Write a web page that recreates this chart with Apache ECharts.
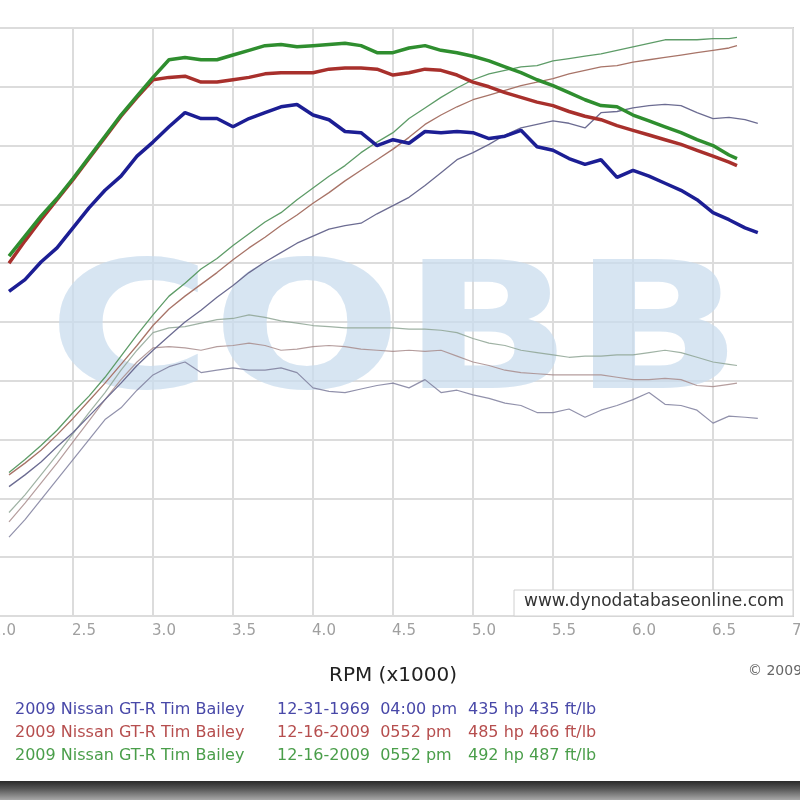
<!DOCTYPE html>
<html>
<head>
<meta charset="utf-8">
<script src="https://cdn.jsdelivr.net/npm/echarts@6/dist/echarts.min.js"></script>
<style>
  html, body { margin: 0; padding: 0; background: #fff; }
  #dyno { width: 800px; height: 800px; }
</style>
</head>
<body>
<div id="dyno"></div>
<script>
// rpm (x1000) sample points
const rpmA = [2.1, 2.2, 2.3, 2.4, 2.5, 2.6, 2.7, 2.8, 2.9, 3.0, 3.1, 3.2, 3.3, 3.4, 3.5, 3.6, 3.7, 3.8, 3.9, 4.0,
  4.1, 4.2, 4.3, 4.4, 4.5, 4.6, 4.7, 4.8, 4.9, 5.0, 5.1, 5.2, 5.3, 5.4, 5.5, 5.6, 5.7, 5.8, 5.9, 6.0,
  6.1, 6.2, 6.3, 6.4, 6.5, 6.6, 6.65];
const rpmB = [2.1, 2.2, 2.3, 2.4, 2.5, 2.6, 2.7, 2.8, 2.9, 3.0, 3.1, 3.2, 3.3, 3.4, 3.5, 3.6, 3.7, 3.8, 3.9, 4.0,
  4.1, 4.2, 4.3, 4.4, 4.5, 4.6, 4.7, 4.8, 4.9, 5.0, 5.1, 5.2, 5.3, 5.4, 5.5, 5.6, 5.7, 5.8, 5.9, 6.0,
  6.1, 6.2, 6.3, 6.4, 6.5, 6.6, 6.7, 6.78];

// torque (ft/lb)
const torqueGreen = [306, 323, 340, 355, 372, 390, 408, 426, 442, 458, 473, 475, 473, 473, 477, 481, 485, 486, 484, 485,
  486, 487, 485, 479, 479, 483, 485, 481, 479, 476, 472, 467, 462, 456, 451, 445, 439, 434, 433, 426,
  421, 416, 411, 405, 400, 392, 389];
const torqueRed = [300, 319, 337, 354, 371, 389, 407, 425, 441, 456, 458, 459, 454, 454, 456, 458, 461, 462, 462, 462,
  465, 466, 466, 465, 460, 462, 465, 464, 460, 454, 450, 445, 441, 437, 434, 429, 425, 422, 417, 413,
  409, 405, 401, 396, 391, 386, 383];
const torqueBlue = [276, 286, 301, 313, 330, 347, 362, 374, 391, 403, 416, 428, 423, 423, 416, 423, 428, 433, 435, 426,
  422, 412, 411, 400, 405, 402, 412, 411, 412, 411, 406, 408, 413, 399, 396, 389, 384, 388, 373, 379,
  374, 368, 362, 354, 343, 337, 330, 326];

// power (hp)
const hpGreen = [122, 133, 145, 158, 173, 187, 203, 221, 239, 256, 272, 283, 295, 304, 315, 325, 335, 343, 354, 364,
  374, 383, 394, 403, 411, 423, 432, 441, 449, 456, 461, 464, 467, 468, 472, 474, 476, 478, 481, 484,
  487, 490, 490, 490, 491, 491, 492];
const hpRed = [120, 130, 141, 154, 168, 183, 198, 214, 230, 247, 261, 272, 282, 292, 303, 313, 322, 332, 341, 351,
  360, 370, 379, 388, 397, 407, 418, 426, 433, 439, 443, 447, 451, 454, 457, 461, 464, 467, 468, 471,
  473, 475, 477, 479, 481, 483, 485];
const hpBlue = [110, 120, 131, 144, 156, 170, 184, 198, 213, 226, 238, 250, 260, 271, 281, 292, 301, 309, 317, 323,
  329, 332, 334, 342, 349, 356, 366, 377, 388, 394, 401, 409, 415, 418, 421, 419, 415, 428, 429, 432,
  434, 435, 434, 428, 423, 424, 422, 419];

// third trace (boost), same scale
const boostGreen = [88, 103, 120, 137, 155, 173, 190, 209, 226, 241, 245, 246, 249, 252, 253, 256, 254, 251, 249, 247,
  246, 245, 245, 245, 245, 244, 244, 243, 241, 236, 232, 230, 226, 224, 222, 220, 221, 221, 222, 222,
  224, 226, 224, 220, 216, 214, 213];
const boostRed = [80, 96, 113, 130, 148, 166, 184, 201, 216, 228, 229, 228, 226, 229, 230, 232, 230, 226, 227, 229,
  230, 229, 227, 226, 225, 226, 225, 226, 221, 216, 213, 209, 207, 206, 205, 205, 205, 205, 203, 201,
  201, 202, 201, 196, 195, 197, 198];
const boostBlue = [67, 82, 99, 116, 133, 150, 167, 177, 192, 205, 212, 216, 207, 209, 211, 209, 209, 211, 207, 194,
  191, 190, 193, 196, 198, 194, 201, 190, 192, 188, 185, 181, 179, 173, 173, 176, 169, 175, 179, 184,
  190, 180, 179, 175, 164, 170, 169, 168];

// run legend rows
const runNames = ['2009 Nissan GT-R Tim Bailey', '2009 Nissan GT-R Tim Bailey', '2009 Nissan GT-R Tim Bailey'];
const runDates = ['12-31-1969  04:00 pm', '12-16-2009  0552 pm', '12-16-2009  0552 pm'];
const runPeaks = ['435 hp 435 ft/lb', '485 hp 466 ft/lb', '492 hp 487 ft/lb'];
const runColors = ['#4848a8', '#b64e4e', '#4a9e4a'];

const pairs = (xs, ys) => xs.map((x, i) => [x, ys[i]]);

const line = (name, xs, ys, color, width, z, opacity) => ({
  name: name,
  type: 'line',
  data: pairs(xs, ys),
  showSymbol: false,
  symbol: 'none',
  z: z,
  lineStyle: { color: color, width: width, opacity: opacity === undefined ? 1 : opacity },
});

const FONT = 'DejaVu Sans';

const legendRows = [];
runNames.forEach((n, i) => {
  const y = 712 + i * 23;
  const font = '16px "' + FONT + '"';
  legendRows.push(
    { type: 'text', left: 15, top: y - 10, style: { text: n, fill: runColors[i], font: font } },
    { type: 'text', left: 277, top: y - 10, style: { text: runDates[i], fill: runColors[i], font: font } },
    { type: 'text', left: 468, top: y - 10, style: { text: runPeaks[i], fill: runColors[i], font: font } }
  );
});

const chart = echarts.init(document.getElementById('dyno'));
chart.setOption({
  animation: false,
  backgroundColor: '#fff',
  grid: {
    left: -7,
    right: 7,
    top: 28,
    bottom: 184,
    outerBoundsMode: 'none',
    containLabel: false,
    show: true,
    borderColor: '#cfcfcf',
    borderWidth: 2,
  },
  xAxis: {
    type: 'value',
    min: 2.0,
    max: 7.0,
    interval: 0.5,
    name: 'RPM (x1000)',
    nameLocation: 'middle',
    nameGap: 50,
    nameTextStyle: { color: '#222', fontSize: 20, fontFamily: FONT },
    axisLine: { show: false },
    axisTick: { show: false },
    axisLabel: {
      color: '#a0a0a0',
      fontSize: 15,
      fontFamily: FONT,
      margin: 8,
      padding: [0, 0, 0, 22],
      formatter: (v) => v.toFixed(1),
    },
    splitLine: { show: true, lineStyle: { color: '#dcdcdc', width: 2 } },
  },
  yAxis: {
    type: 'value',
    min: 0,
    max: 500,
    interval: 50,
    axisLine: { show: false },
    axisTick: { show: false },
    axisLabel: { show: false },
    splitLine: { show: true, lineStyle: { color: '#dcdcdc', width: 2 } },
  },
  graphic: [
    {
      type: 'text',
      left: 48,
      top: 254,
      z: 1,
      scaleX: 1.27,
      style: {
        text: 'COBB',
        fill: '#cadcee',
        opacity: 0.75,
        font: 'bold 176px "DejaVu Sans"',
      },
    },
    {
      type: 'rect',
      shape: { x: 514, y: 590, width: 279, height: 26 },
      z: 5,
      style: { fill: '#fff', stroke: '#d0d0d0', lineWidth: 1 },
    },
    {
      type: 'text',
      right: 16,
      top: 593,
      z: 6,
      style: { text: 'www.dynodatabaseonline.com', fill: '#333', font: '17px "' + FONT + '"' },
    },
    {
      type: 'text',
      left: 748,
      top: 664,
      style: { text: '\u00a9 2009', fill: '#666', font: '14px "' + FONT + '"' },
    },
    {
      type: 'rect',
      shape: { x: 0, y: 781, width: 800, height: 19 },
      style: {
        fill: new echarts.graphic.LinearGradient(0, 0, 0, 1, [
          { offset: 0, color: '#2a2a2a' },
          { offset: 0.4, color: '#555' },
          { offset: 1, color: '#a8a8a8' },
        ]),
      },
    },
    ...legendRows,
  ],
  series: [
    line('boost blue', rpmB, boostBlue, '#7e7e9c', 1.2, 3, 0.85),
    line('boost red', rpmA, boostRed, '#a88c8c', 1.2, 3, 0.85),
    line('boost green', rpmA, boostGreen, '#8ea494', 1.2, 3, 0.85),
    line('hp blue', rpmB, hpBlue, '#6c6c92', 1.3, 4),
    line('hp red', rpmA, hpRed, '#a87468', 1.3, 4),
    line('hp green', rpmA, hpGreen, '#5e9c68', 1.3, 4),
    line('torque blue', rpmB, torqueBlue, '#1c1e94', 3.5, 6),
    line('torque red', rpmA, torqueRed, '#a8302c', 3.5, 6),
    line('torque green', rpmA, torqueGreen, '#2f8e2f', 3.5, 7),
  ],
});
</script>
</body>
</html>
